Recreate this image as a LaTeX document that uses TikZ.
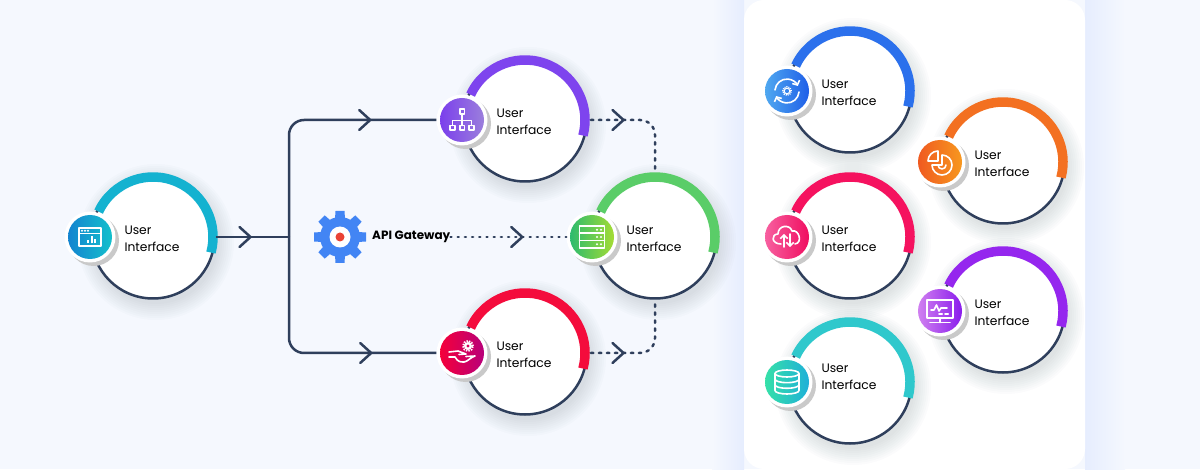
\documentclass[tikz,border=0pt]{standalone}
\usepackage{fontspec}
\setmainfont{Poppins}
\usetikzlibrary{arrows.meta,decorations.markings}

\definecolor{pagebg}{HTML}{F5F8FE}
\definecolor{panelglow}{HTML}{E6EDFE}
\definecolor{linkdark}{HTML}{2F3F5C}
\definecolor{gearblue}{HTML}{4285F4}
\definecolor{gearred}{HTML}{EA4335}
\definecolor{arccyan}{HTML}{14B2D0}   \definecolor{cyanA}{HTML}{1484D0}   \definecolor{cyanB}{HTML}{14C0CC}
\definecolor{arcindigo}{HTML}{7E44EE} \definecolor{indigoA}{HTML}{7B3FEC} \definecolor{indigoB}{HTML}{9B7FDC}
\definecolor{arcred}{HTML}{F40C3C}    \definecolor{redA}{HTML}{F5003A}    \definecolor{redB}{HTML}{B8007A}
\definecolor{arcgreen}{HTML}{5ACD68}  \definecolor{greenA}{HTML}{2DBB6E}  \definecolor{greenB}{HTML}{A4DC34}
\definecolor{arcblue}{HTML}{2B70EC}   \definecolor{blueA}{HTML}{4FA8F0}   \definecolor{blueB}{HTML}{1F5FE8}
\definecolor{arcorange}{HTML}{F37021} \definecolor{orangeA}{HTML}{F05A20} \definecolor{orangeB}{HTML}{F7981F}
\definecolor{arcpink}{HTML}{F5125F}   \definecolor{pinkA}{HTML}{F760A0}   \definecolor{pinkB}{HTML}{F00E60}
\definecolor{arcteal}{HTML}{2FC8CC}   \definecolor{tealA}{HTML}{36E0A8}   \definecolor{tealB}{HTML}{1EB0D8}
\definecolor{arcviolet}{HTML}{9526EE} \definecolor{violetA}{HTML}{D080F0} \definecolor{violetB}{HTML}{8A1CEC}

\tikzset{
  bigcircle/.style={draw=linkdark, line width=2.5pt, circle, fill=white, minimum size=123pt, inner sep=0pt},
  badge/.style={circle, fill=white, minimum size=51pt, inner sep=0pt},
  uitext/.style={anchor=west, align=left, inner sep=0pt, font=\fontsize{12.3}{17.5}\selectfont},
  flow/.style={draw=linkdark, line width=2.5pt, rounded corners=15pt},
  dots/.style={flow, line cap=round, dash pattern=on 1pt off 6.2pt},
  longdots/.style={flow, line cap=round, dash pattern=on 2.5pt off 5.5pt},
  chevron/.style={postaction={decorate}, decoration={markings, mark=at position #1 with
    {\arrow[linkdark]{Straight Barb[length=11pt, width=20pt, line width=2.5pt, round]}}}},
  glyph/.style={draw=white, line width=1.6pt, line cap=round, line join=round}
}

% #1 text shift, #2 number, #3 x, #4 y, #5 arc colour, #6 and #7 badge colours
\newcommand{\uicircle}[7][0]{
  \foreach \r in {0,2,...,16}
    \fill[linkdark, opacity=0.014] (#3+3,#4-5) circle (62pt+\r pt);
  \node[bigcircle] (ui#2) at (#3,#4) {};
  \draw[#5, line width=9.5pt] (ui#2.center) ++(155:60pt) arc[start angle=155, end angle=-15, radius=60pt];
  \fill[black!21] (#3-59.5,#4-3.5) circle (25.5pt);
  \node[badge] (ic#2) at (#3-63,#4) {};
  \node[circle, minimum size=44pt, inner sep=0pt, left color=#6, right color=#7] (in#2) at (#3-63,#4) {};
  \node[uitext] (tx#2) at (#3-28.7,#4-2+#1) {User\\Interface};
}

\begin{document}
\begin{tikzpicture}[x=1pt,y=1pt]
    \useasboundingbox (0,0) rectangle (1200,469);
    \fill[pagebg] (0,0) rectangle (1200,469);

    % Panel on the right
    \shade[left color=pagebg, right color=panelglow] (712,0) rectangle (744,469);
    \shade[left color=panelglow, right color=pagebg] (1085,0) rectangle (1125,469);
    \fill[white, rounded corners=20pt] (744,0) rectangle (1085,469);

    % Circles of the flow
    \uicircle{1}{153}{232}{arccyan}{cyanA}{cyanB}
    \uicircle{2}{525}{349}{arcindigo}{indigoA}{indigoB}
    \uicircle{3}{525}{116}{arcred}{redA}{redB}
    \uicircle{4}{655}{232}{arcgreen}{greenA}{greenB}

    % Circles of the panel
    \uicircle{5}{850}{378}{arcblue}{blueA}{blueB}
    \uicircle{6}{1003}{307}{arcorange}{orangeA}{orangeB}
    \uicircle{7}{850}{232}{arcpink}{pinkA}{pinkB}
    \uicircle{8}{1003}{158}{arcviolet}{violetA}{violetB}
    \uicircle[7]{9}{850}{87}{arcteal}{tealA}{tealB}

    % Gateway
    \node[inner sep=0pt, minimum size=40pt] (gear) at (340,232) {};
    \foreach \a in {0,45,...,315}
        \fill[gearblue, rotate around={\a:(gear.center)}] (335,250) -- (345,250) -- (344.5,258) -- (335.5,258) -- cycle;
    \fill[gearblue] (gear.center) circle (20pt);
    \fill[white] (gear.center) circle (10.5pt);
    \fill[gearred] (gear.center) circle (4.5pt);
    \node[anchor=west, inner sep=0pt, font=\fontsize{12}{15}\selectfont\bfseries] (gateway) at (372,232) {API Gateway};

    % Solid links
    \coordinate (fork) at (289,232);
    \draw[flow, chevron=36pt] (ui1) -- (fork);
    \draw[flow, chevron=193pt] (fork) |- (ic2);
    \draw[flow, chevron=193pt] (fork) |- (ic3);

    % Dotted links
    \draw[dots, chevron=73pt] (gateway) -- (ic4);
    \draw[longdots, chevron=37pt, shorten <=3pt, shorten >=3pt] (ui2) -| (ui4);
    \draw[longdots, chevron=37pt, shorten <=3pt, shorten >=3pt] (ui3) -| (ui4);

    % Window
    \begin{scope}[shift={(ic1.center)}, glyph]
        \draw (-11,-9) rectangle (11,9);
        \draw (-11,3.5) -- (11,3.5);
        \fill[white] (-8,6.2) circle (1.1pt) (-5,6.2) circle (1.1pt) (-2,6.2) circle (1.1pt);
        \draw[line width=2pt, line cap=butt] (-2.3,-6.5) -- (-2.3,-3) (1.7,-6.5) -- (1.7,1) (5.3,-6.5) -- (5.3,-2);
    \end{scope}

    % Tree
    \begin{scope}[shift={(ic2.center)}, glyph]
        \draw (-2.3,6) rectangle (2.3,11);
        \draw (-12,-10) rectangle (-7,-5.5) (-2.3,-10) rectangle (2.3,-5.5) (7,-10) rectangle (12,-5.5);
        \draw (0,6) -- (0,-5.5) (-9.5,-5.5) -- (-9.5,-0.5) -- (9.5,-0.5) -- (9.5,-5.5);
    \end{scope}

    % Hand with cog
    \begin{scope}[shift={(ic3.center)}, glyph]
        \draw[line width=2pt, dash pattern=on 1.4pt off 1.2pt, line cap=butt] (6,7) circle (5pt);
        \fill[white] (6,7) circle (4pt);
        \fill[redA!50!redB] (6,7) circle (1.6pt);
        \draw (-13,1) -- (-4,2) .. controls (-1,2) and (1,-1) .. (4,-1) -- (-3,-1.5);
        \draw (-13,-4) -- (-7,-4) .. controls (-4,-9) and (-2,-9) .. (2,-9) .. controls (5,-9) and (9,-4) .. (13,-3) -- (4,-3.5);
    \end{scope}

    % Server
    \begin{scope}[shift={(ic4.center)}, glyph]
        \draw (-12.5,-11) rectangle (12.5,11);
        \draw (-12.5,3.7) -- (12.5,3.7) (-12.5,-3.7) -- (12.5,-3.7);
        \foreach \y in {7.3,0,-7.3} {
            \fill[white] (5,\y) circle (1.1pt) (9,\y) circle (1.1pt);
        }
    \end{scope}

    % Sync with cog
    \begin{scope}[shift={(ic5.center)}, glyph]
        \draw[-{Straight Barb[length=3.5pt, width=8pt]}] (-12,1) arc[start angle=175, end angle=25, radius=12pt];
        \draw[-{Straight Barb[length=3.5pt, width=8pt]}] (12,-1) arc[start angle=-5, end angle=-155, radius=12pt];
        \draw[line width=1.6pt, dash pattern=on 1pt off 1pt, line cap=butt] (0,0) circle (4.2pt);
        \draw[line width=1pt] (0,0) circle (2.8pt);
    \end{scope}

    % Pie
    \begin{scope}[shift={(ic6.center)}, glyph]
        \draw (2,7) arc[start angle=90, end angle=-180, radius=10pt] -- (2,-3) -- cycle;
        \draw (-2,1) -- (-2,11) arc[start angle=90, end angle=180, radius=10pt] -- cycle;
        \draw (6,-3) arc[start angle=0, end angle=-180, radius=4pt];
    \end{scope}

    % Cloud
    \begin{scope}[shift={(ic7.center)}, glyph]
        \draw (-6,-7) .. controls (-16,-7) and (-16,3) .. (-9,3) .. controls (-9,12) and (3,13) .. (5,6) .. controls (12,8) and (16,-6) .. (8,-7);
        \draw[-{Straight Barb[length=3.5pt, width=7.5pt]}] (-3,-10) -- (-3,3);
        \draw[-{Straight Barb[length=3.5pt, width=7.5pt]}] (3,3) -- (3,-10);
    \end{scope}

    % Monitor
    \begin{scope}[shift={(ic8.center)}, glyph]
        \draw (-13,-7) rectangle (13,11);
        \draw (-9,1) -- (-6,1) -- (-3.5,6) -- (-1,0) -- (1,3) -- (7,3);
        \draw[line width=2pt] (-1,-3.2) -- (2,-3.2) (5,-3.2) -- (8,-3.2);
        \draw (-10,-11.5) -- (10,-11.5) (0,-7) -- (0,-11.5);
    \end{scope}

    % Database
    \begin{scope}[shift={(ic9.center)}, glyph]
        \draw (0,8.5) ellipse (12pt and 3.5pt);
        \draw (-12,8.5) -- (-12,-8.5) arc[start angle=180, end angle=360, x radius=12pt, y radius=3.5pt] -- (12,8.5);
        \draw (-12,2.8) arc[start angle=180, end angle=360, x radius=12pt, y radius=3.5pt];
        \draw (-12,-2.8) arc[start angle=180, end angle=360, x radius=12pt, y radius=3.5pt];
    \end{scope}
\end{tikzpicture}
\end{document}
